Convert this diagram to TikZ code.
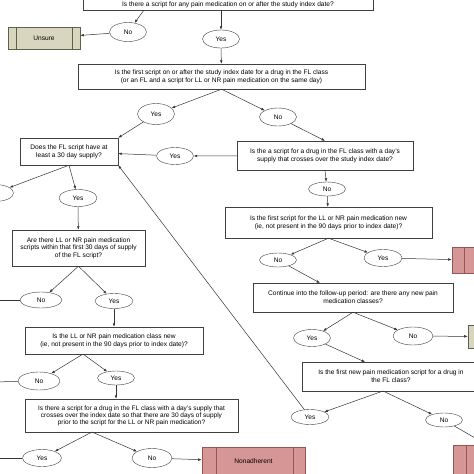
\documentclass[tikz,border=0pt]{standalone}
\usepackage{fontspec}
\setmainfont{Liberation Sans}
\usetikzlibrary{shapes.geometric,arrows.meta}
\definecolor{beigefill}{RGB}{217,214,192}
\definecolor{beigeline}{RGB}{95,95,75}
\definecolor{pinkfill}{RGB}{214,150,150}
\definecolor{pinkline}{RGB}{150,85,85}
\tikzstyle{question}=[rectangle,draw=black!75,fill=white,align=center,inner sep=1pt,font=\fontsize{6.6}{8}\selectfont]
\tikzstyle{answer}=[ellipse,draw=black!75,fill=white,inner sep=0pt,minimum width=37pt,minimum height=17pt,font=\fontsize{6.6}{8}\selectfont]
\tikzstyle{unsure}=[rectangle,draw=beigeline,fill=beigefill,line width=0.6pt,inner sep=0pt,font=\fontsize{6.6}{8}\selectfont]
\tikzstyle{nonadh}=[rectangle,draw=pinkline,fill=pinkfill,line width=0.6pt,inner sep=0pt,font=\fontsize{6.6}{8}\selectfont]
\tikzstyle{conn}=[-{Latex[length=3.5pt,width=2.6pt]},black!80,line width=0.5pt]

\begin{document}
\begin{tikzpicture}[x=1pt,y=-1pt]
    \useasboundingbox (0,0) rectangle (474,474);
    \clip (0,0) rectangle (474,474);
    % questions
    \node[question,minimum width=290pt,minimum height=11pt] (q1) at (228,4.5) {Is there a script for any pain medication on or after the study index date?};
    \node[question,minimum width=287pt,minimum height=25pt] (q2) at (221.5,76.5) {Is the first script on or after the study index date for a drug in the FL class\\(or an FL and a script for LL or NR pain medication on the same day)};
    \node[question,minimum width=98pt,minimum height=27pt] (q3) at (69,151.5) {Does the FL script have at\\least a 30 day supply?};
    \node[question,minimum width=176pt,minimum height=29pt] (q4) at (325,155.5) {Is the a script for a drug in the FL class with a day's\\supply that crosses over the study index date?};
    \node[question,minimum width=207pt,minimum height=31pt] (q5) at (328.5,222.5) {Is the first script for the LL or NR pain medication new\\(ie, not present in the 90 days prior to index date)?};
    \node[question,minimum width=133pt,minimum height=36pt,font=\fontsize{6.6}{7.4}\selectfont] (q6) at (78.5,248) {Are there LL or NR pain medication\\scripts within that first 30 days of supply\\of the FL script?};
    \node[question,minimum width=200pt,minimum height=29pt] (q7) at (353,297.5) {Continue into the follow-up period: are there any new pain\\medication classes?};
    \node[question,minimum width=178pt,minimum height=27pt] (q8) at (114,340.5) {Is the LL or NR pain medication class new\\(ie, not present in the 90 days prior to index date)?};
    \node[question,minimum width=178pt,minimum height=29pt] (q9) at (391,376.5) {Is the first new pain medication script for a drug in\\the FL class?};
    \node[question,minimum width=213pt,minimum height=33pt,font=\fontsize{6.5}{7}\selectfont] (q10) at (131.5,415.5) {Is there a script for a drug in the FL class with a day's supply that\\crosses over the index date so that there are 30 days of supply\\prior to the script for the LL or NR pain medication?};

    % answers
    \node[answer,minimum height=19pt] (n1) at (128,32) {No};
    \node[answer,minimum height=18pt] (y1) at (221,39) {Yes};
    \node[answer,minimum height=21pt] (y2) at (156,114) {Yes};
    \node[answer,minimum height=18pt] (n2) at (278,117) {No};
    \node[answer] (y3) at (175,156) {Yes};
    \node[answer,minimum height=14pt] (n3) at (327,189) {No};
    \node[answer] (n4) at (-5,193) {};
    \node[answer,minimum width=38pt] (y4) at (78,198) {Yes};
    \node[answer,minimum width=42pt,minimum height=16pt] (n5) at (41,300) {No};
    \node[answer,minimum width=38pt,minimum height=15pt] (y5) at (114,301) {Yes};
    \node[answer,minimum height=14pt] (nA) at (278,260) {No};
    \node[answer,minimum width=38pt] (yA) at (383,258) {Yes};
    \node[answer] (yB) at (312,338) {Yes};
    \node[answer,minimum width=40pt,minimum height=18pt] (nB) at (413,336) {No};
    \node[answer,minimum width=42pt,minimum height=18pt] (n6) at (39,381) {No};
    \node[answer,minimum height=14pt] (y6) at (116,378) {Yes};
    \node[answer,minimum width=38pt,minimum height=15pt] (yC) at (310,417) {Yes};
    \node[answer,minimum height=14pt] (nC) at (444,420) {No};
    \node[answer,minimum width=39pt] (y7) at (42,458) {Yes};
    \node[answer,minimum width=40pt,minimum height=19pt] (n7) at (152,458) {No};

    % outcomes
    \node[unsure,minimum width=72pt,minimum height=22pt] (u1) at (44,38) {Unsure};
    \node[unsure,minimum width=32pt,minimum height=23pt] (u2) at (484,336.5) {};
    \node[nonadh,minimum width=103pt,minimum height=29pt] (r1) at (253.5,461.5) {Nonadherent};
    \node[nonadh,minimum width=38pt,minimum height=26pt] (r2) at (471,260) {};
    \node[nonadh,minimum width=37pt,minimum height=31pt] (r3) at (471.5,460.5) {};
    \draw[beigeline,line width=0.6pt] ([xshift=9pt]u1.north west) -- ([xshift=9pt]u1.south west);
    \draw[beigeline,line width=0.6pt] ([xshift=-8pt]u1.north east) -- ([xshift=-8pt]u1.south east);
    \draw[beigeline,line width=0.6pt] ([xshift=12pt]u2.north west) -- ([xshift=12pt]u2.south west);
    \draw[pinkline,line width=0.6pt] ([xshift=15pt]r1.north west) -- ([xshift=15pt]r1.south west);
    \draw[pinkline,line width=0.6pt] ([xshift=-12pt]r1.north east) -- ([xshift=-12pt]r1.south east);
    \draw[pinkline,line width=0.6pt] ([xshift=13pt]r2.north west) -- ([xshift=13pt]r2.south west);
    \draw[pinkline,line width=0.6pt] ([xshift=14pt]r3.north west) -- ([xshift=14pt]r3.south west);

    % joints and loose ends
    \coordinate (t1) at (144,10);
    \coordinate (t2) at (221,10);
    \coordinate (j1) at (320,283);
    \coordinate (j2) at (365,362);
    \coordinate (j3) at (383,391);
    \coordinate (j4) at (83,354);
    \coordinate (j5) at (92,432);
    \coordinate (e1) at (-8,300);
    \coordinate (e2) at (-8,382);
    \coordinate (e3) at (-8,458);
    \coordinate (e4) at (482,442);

    \foreach \from/\to in {t1/n1,n1/u1,t2/y1,y1/q2,q2.south/y2,q2.south/n2,y2/q3.north east,n2/q4.north,
        q4/y3,y3/q3,q4.south/n3,n3/q5,q5.south/nA,q5.south/yA,yA/r2,nA/j1,q7.south/yB,q7.south/nB,
        nB/u2,yB/j2,j3/yC,j3/nC,nC/e4,yC/q3.south east,q3.south/n4,q3.south/y4,y4/q6,q6.south/n5,
        q6.south/y5,n5/e1,y5/q8,j4/n6,j4/y6,n6/e2,y6/y6 |- q10.north,j5/y7,j5/n7,y7/e3,n7/r1}
    \draw[conn] (\from) -- (\to);
\end{tikzpicture}
\end{document}
